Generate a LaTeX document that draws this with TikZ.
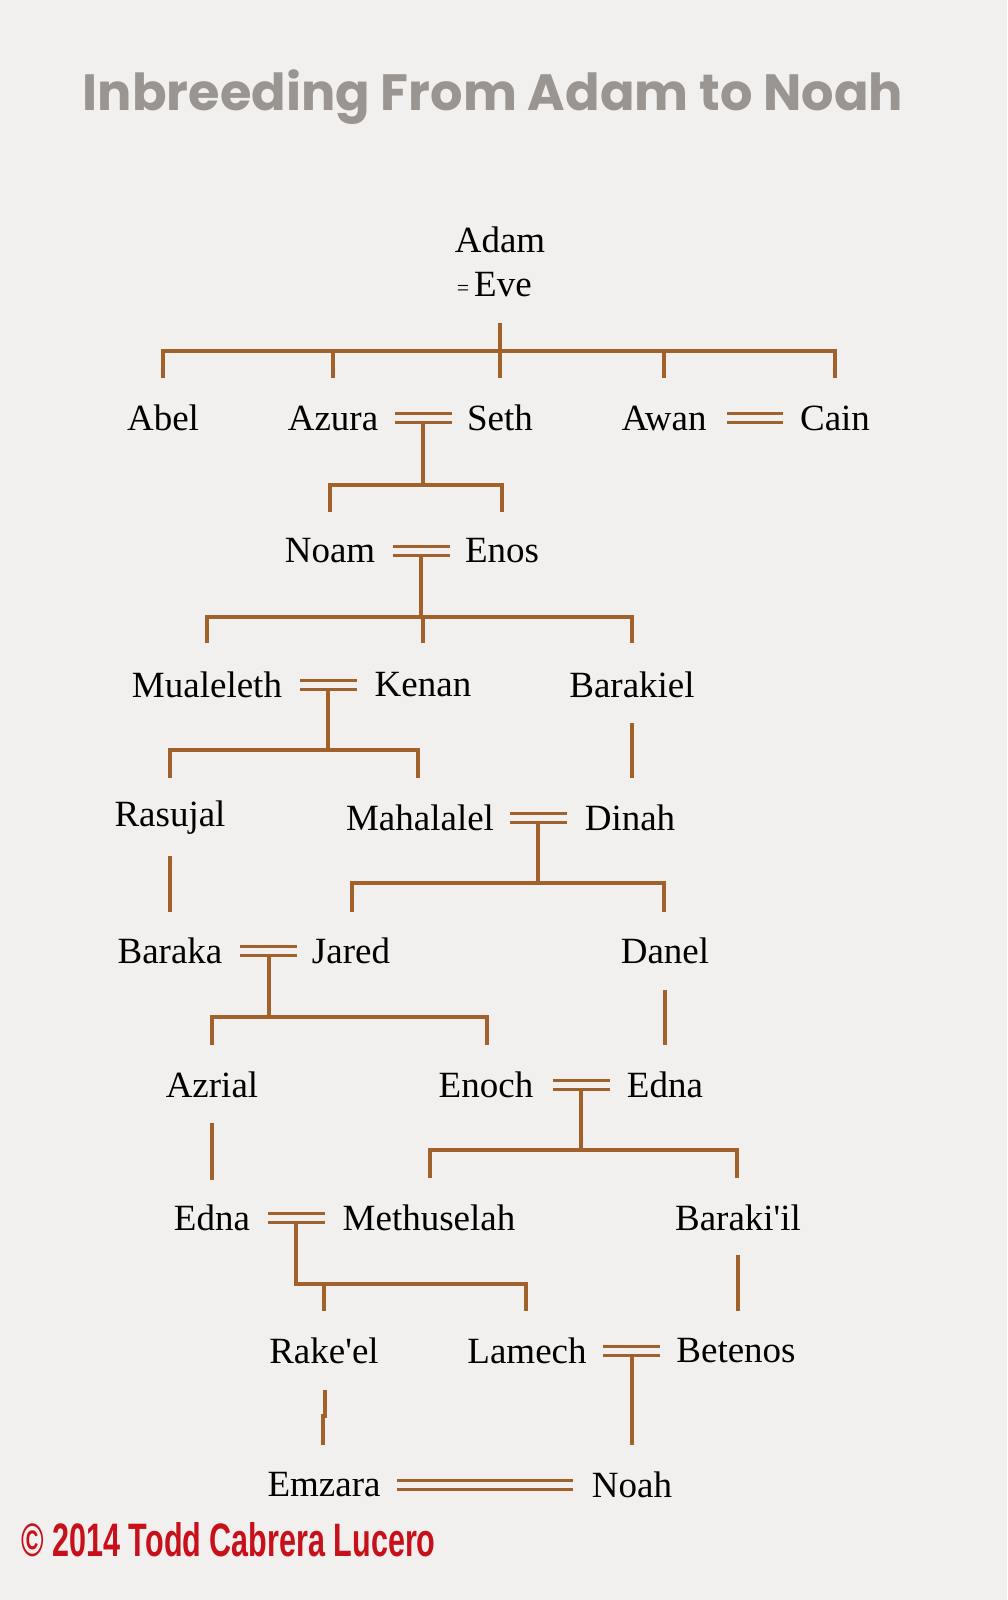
\documentclass[tikz,border=0pt]{standalone}
\usepackage{fontspec}
\usepackage{graphicx}
\setmainfont{Liberation Serif}
\newfontfamily\titlefont{Poppins Bold}
\newfontfamily\copyfont{Liberation Sans}
\definecolor{bg}{HTML}{F1F0EE}
\definecolor{ln}{HTML}{A0612A}
\definecolor{tg}{HTML}{9A9590}
\definecolor{cr}{HTML}{C8101A}
\tikzset{p/.style={font=\fontsize{37}{42}\selectfont, inner sep=0pt},
 l/.style={ln, line width=4pt},
 dbl/.style={ln, line width=3.6pt}}
\newcommand{\cpl}[3]{\draw[dbl] (#1,#3-4.5) -- (#2,#3-4.5); \draw[dbl] (#1,#3+4.5) -- (#2,#3+4.5);}
\begin{document}
\begin{tikzpicture}[x=1pt,y=-1pt]
\fill[bg] (0,0) rectangle (1007,1600);
\useasboundingbox (0,0) rectangle (1007,1600);
\node[text=tg] (title) at (493,97) {\resizebox{820pt}{!}{\titlefont Inbreeding From Adam to Noah}};
\node[text=cr, anchor=west] (copy) at (18,1540) {\resizebox{414pt}{34pt}{\copyfont\bfseries © 2014 Todd Cabrera Lucero}};
\node[p] (adam) at (500,240) {Adam};
\node[p] (eve) at (503,285) {Eve};
\node[font=\fontsize{22}{22}\selectfont, inner sep=0pt] (eq) at (463,290) {=};
% row 1
\foreach \n/\t/\x in {abel/Abel/163, azura/Azura/333, seth/Seth/500, awan/Awan/664, cain/Cain/835}
  \node[p] (\n) at (\x,418) {\t};
\draw[l] (500,323) -- (500,351);
\draw[l] (163,378) -- (163,351) -- (835,351) -- (835,378);
\foreach \x in {333,500,664} \draw[l] (\x,351) -- (\x,378);
\cpl{395}{452}{418} \cpl{727}{783}{418}
\draw[l] (423,422) -- (423,485);
\draw[l] (330,512) -- (330,485) -- (502,485) -- (502,512);
% row 2
\node[p] (noam) at (330,551) {Noam};
\node[p] (enos) at (502,551) {Enos};
\cpl{393}{450}{551}
\draw[l] (421,555) -- (421,617);
\draw[l] (207,643) -- (207,617) -- (632,617) -- (632,643);
\draw[l] (423,617) -- (423,643);
% row 3
\node[p] (mual) at (207,685) {Mualeleth};
\node[p] (kenan) at (423,685) {Kenan};
\node[p] (bark) at (632,685) {Barakiel};
\cpl{300}{357}{685}
\draw[l] (328,689) -- (328,750);
\draw[l] (170,778) -- (170,750) -- (418,750) -- (418,778);
\draw[l] (632,723) -- (632,778);
% row 4
\node[p] (rasu) at (170,818) {Rasujal};
\node[p] (maha) at (420,818) {Mahalalel};
\node[p] (dinah) at (630,818) {Dinah};
\cpl{510}{567}{818}
\draw[l] (538,822) -- (538,883);
\draw[l] (352,912) -- (352,883) -- (664,883) -- (664,912);
\draw[l] (170,856) -- (170,912);
% row 5
\node[p] (baraka) at (170,951) {Baraka};
\node[p] (jared) at (351,951) {Jared};
\node[p] (danel) at (665,951) {Danel};
\cpl{240}{297}{951}
\draw[l] (269,955) -- (269,1017);
\draw[l] (212,1045) -- (212,1017) -- (487,1017) -- (487,1045);
\draw[l] (665,990) -- (665,1045);
% row 6
\node[p] (azrial) at (212,1085) {Azrial};
\node[p] (enoch) at (486,1085) {Enoch};
\node[p] (edna1) at (665,1085) {Edna};
\cpl{553}{610}{1085}
\draw[l] (581,1089) -- (581,1150);
\draw[l] (430,1178) -- (430,1150) -- (737,1150) -- (737,1178);
\draw[l] (212,1123) -- (212,1180);
% row 7
\node[p] (edna2) at (212,1218) {Edna};
\node[p] (meth) at (429,1218) {Methuselah};
\node[p] (barki) at (738,1218) {Baraki\textquotesingle il};
\cpl{268}{325}{1218}
\draw[l] (296,1222) -- (296,1284) -- (526,1284) -- (526,1311);
\draw[l] (324,1284) -- (324,1311);
\draw[l] (738,1255) -- (738,1311);
% row 8
\node[p] (rake) at (324,1351) {Rake\textquotesingle el};
\node[p] (lamech) at (527,1351) {Lamech};
\node[p] (beten) at (736,1351) {Betenos};
\cpl{603}{660}{1351}
\draw[l] (632,1355) -- (632,1445);
\draw[l] (325,1390) -- (325,1418);
\draw[l] (323,1414) -- (323,1445);
% row 9
\node[p] (emz) at (324,1485) {Emzara};
\node[p] (noah) at (632,1485) {Noah};
\cpl{397}{573}{1485}
\end{tikzpicture}
\end{document}
